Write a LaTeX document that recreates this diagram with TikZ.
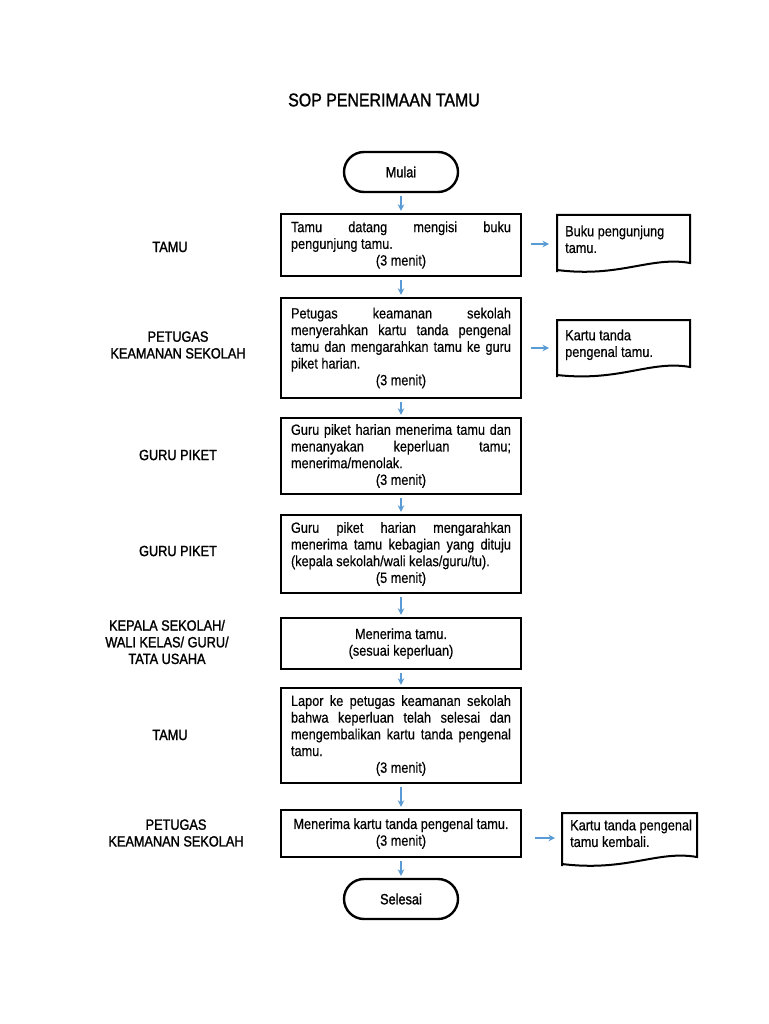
\documentclass[tikz,border=0pt]{standalone}
\usepackage{fontspec}
\setmainfont{Liberation Sans}[FakeStretch=0.86,FakeBold=0.4]
\newfontfamily\heavy{Liberation Sans}[FakeStretch=0.86,FakeBold=1.4]
\usetikzlibrary{arrows.meta}
\definecolor{arrowblue}{RGB}{91,155,213}
\begin{document}
\begin{tikzpicture}[x=1pt,y=-1pt,
  txt/.style={font=\fontsize{14.8}{16.7}\selectfont},
  box/.style={txt, draw, line width=2.4pt, text width=220pt, inner xsep=10pt, inner ysep=0pt, minimum width=240pt, align=justify},
  term/.style={font=\heavy\fontsize{14.8}{16.7}\selectfont, draw, line width=2.4pt, rounded corners=20pt, minimum width=114pt, minimum height=40pt},
  lab/.style={font=\heavy\fontsize{14.8}{16.7}\selectfont, align=center},
  docn/.style={txt, inner xsep=7pt, align=left, anchor=north west},
  docline/.style={line width=2pt},
  flow/.style={draw=arrowblue, line width=1.2pt, -{Stealth[length=6.5pt,width=6.5pt]}},
]
\useasboundingbox (0,0) rectangle (768,1024);
\fill[white] (0,0) rectangle (768,1024);

\node[font=\heavy\fontsize{18.5}{21}\selectfont] (title) at (384,100) {SOP PENERIMAAN TAMU};

\node[term] (start) at (401,172) {Mulai};
\node[box, minimum height=62pt] (b1) at (401,245) {Tamu datang mengisi buku\linebreak pengunjung tamu.\par{\centering (3 menit)\par}};
\node[box, minimum height=100pt] (b2) at (401,348) {Petugas keamanan sekolah\linebreak menyerahkan kartu tanda pengenal\linebreak tamu dan mengarahkan tamu ke guru\linebreak piket harian.\par{\centering (3 menit)\par}};
\node[box, minimum height=76pt] (b3) at (401,456) {Guru piket harian menerima tamu dan\linebreak menanyakan keperluan tamu;\linebreak menerima/menolak.\par{\centering (3 menit)\par}};
\node[box, minimum height=78pt] (b4) at (401,554) {Guru piket harian mengarahkan\linebreak menerima tamu kebagian yang dituju\linebreak (kepala sekolah/wali kelas/guru/tu).\par{\centering (5 menit)\par}};
\node[box, minimum height=51pt] (b5) at (401,643.5) {{\centering Menerima tamu.\par (sesuai keperluan)\par}};
\node[box, minimum height=95pt] (b6) at (401,735.5) {Lapor ke petugas keamanan sekolah\linebreak bahwa keperluan telah selesai dan\linebreak mengembalikan kartu tanda pengenal\linebreak tamu.\par{\centering (3 menit)\par}};
\node[box, minimum height=47pt] (b7) at (401,833.5) {{\centering Menerima kartu tanda pengenal tamu.\par (3 menit)\par}};
\node[term] (stop) at (401,899) {Selesai};

\foreach \a/\b in {start/b1,b1/b2,b2/b3,b3/b4,b4/b5,b5/b6,b6/b7,b7/stop}
  \draw[flow, shorten <=3pt, shorten >=2pt] (\a.south) -- (\b.north);

% left labels
\node[lab] (l1) at (170,247) {TAMU};
\node[lab] (l2) at (178,345) {PETUGAS\\KEAMANAN SEKOLAH};
\node[lab] (l3) at (178,455) {GURU PIKET};
\node[lab] (l4) at (178,551) {GURU PIKET};
\node[lab] (l5) at (167,642) {KEPALA SEKOLAH/\\WALI KELAS/ GURU/\\TATA USAHA};
\node[lab] (l6) at (170,735) {TAMU};
\node[lab] (l7) at (176,833) {PETUGAS\\KEAMANAN SEKOLAH};

% documents
\node[docn] (d1) at (558,222) {Buku pengunjung\\tamu.};
\node[docn] (d2) at (558,326) {Kartu tanda\\pengenal tamu.};
\node[docn] (d3) at (563,816) {Kartu tanda pengenal\\tamu kembali.};

\draw[docline] (557,272) -- (557,215) -- (690,215) -- (690,263)
  .. controls (650,256) and (620,278) .. (557,270);
\draw[docline] (557,377) -- (557,320) -- (690,320) -- (690,367)
  .. controls (650,360) and (620,382) .. (557,375);
\draw[docline] (562,866) -- (562,813) -- (697,813) -- (697,857)
  .. controls (657,850) and (627,872) .. (562,864);

\coordinate (d1w) at (557,244);
\coordinate (d2w) at (557,348);
\coordinate (d3w) at (562,838);
\draw[flow, shorten <=9pt, shorten >=8pt] (b1.east |- d1w) -- (d1w);
\draw[flow, shorten <=9pt, shorten >=8pt] (b2.east |- d2w) -- (d2w);
\draw[flow, shorten <=13pt, shorten >=7pt] (b7.east |- d3w) -- (d3w);
\end{tikzpicture}
\end{document}
